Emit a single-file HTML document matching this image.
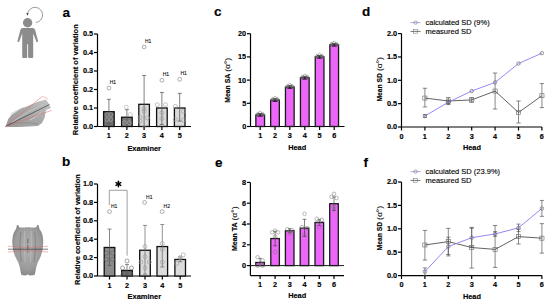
<!DOCTYPE html>
<html><head><meta charset="utf-8"><style>
html,body{margin:0;padding:0;background:#fff;}
svg{display:block;}
text{font-family:"Liberation Sans", sans-serif;}
text[font-weight=bold],tspan[font-weight=bold]{stroke:#000;stroke-width:0.15px;}
</style></head><body>
<svg width="550" height="305" viewBox="0 0 550 305" font-family='"Liberation Sans", sans-serif'>
<rect width="550" height="305" fill="#fff"/>
<text x="62.50" y="17.00" font-size="13.5" font-weight="bold" text-anchor="start" fill="#000" >a</text>
<text x="62.00" y="166.00" font-size="13.5" font-weight="bold" text-anchor="start" fill="#000" >b</text>
<text x="214.00" y="16.00" font-size="13.5" font-weight="bold" text-anchor="start" fill="#000" >c</text>
<text x="215.00" y="167.00" font-size="13.5" font-weight="bold" text-anchor="start" fill="#000" >e</text>
<text x="362.00" y="15.60" font-size="13.5" font-weight="bold" text-anchor="start" fill="#000" >d</text>
<text x="363.50" y="167.00" font-size="13.5" font-weight="bold" text-anchor="start" fill="#000" >f</text>
<line x1="97.50" y1="34.00" x2="97.50" y2="126.50" stroke="#000" stroke-width="1.2" />
<line x1="94.00" y1="126.50" x2="97.50" y2="126.50" stroke="#000" stroke-width="1.2" />
<text x="93.20" y="128.90" font-size="7.3" font-weight="bold" text-anchor="end" fill="#000" >0.0</text>
<line x1="94.00" y1="108.00" x2="97.50" y2="108.00" stroke="#000" stroke-width="1.2" />
<text x="93.20" y="110.40" font-size="7.3" font-weight="bold" text-anchor="end" fill="#000" >0.1</text>
<line x1="94.00" y1="89.50" x2="97.50" y2="89.50" stroke="#000" stroke-width="1.2" />
<text x="93.20" y="91.90" font-size="7.3" font-weight="bold" text-anchor="end" fill="#000" >0.2</text>
<line x1="94.00" y1="71.00" x2="97.50" y2="71.00" stroke="#000" stroke-width="1.2" />
<text x="93.20" y="73.40" font-size="7.3" font-weight="bold" text-anchor="end" fill="#000" >0.3</text>
<line x1="94.00" y1="52.50" x2="97.50" y2="52.50" stroke="#000" stroke-width="1.2" />
<text x="93.20" y="54.90" font-size="7.3" font-weight="bold" text-anchor="end" fill="#000" >0.4</text>
<line x1="94.00" y1="34.00" x2="97.50" y2="34.00" stroke="#000" stroke-width="1.2" />
<text x="93.20" y="36.40" font-size="7.3" font-weight="bold" text-anchor="end" fill="#000" >0.5</text>
<line x1="97.50" y1="126.50" x2="191.00" y2="126.50" stroke="#000" stroke-width="1.2" />
<line x1="108.90" y1="126.50" x2="108.90" y2="130.00" stroke="#000" stroke-width="1.2" />
<text x="108.90" y="138.30" font-size="7.3" font-weight="bold" text-anchor="middle" fill="#000" >1</text>
<line x1="126.90" y1="126.50" x2="126.90" y2="130.00" stroke="#000" stroke-width="1.2" />
<text x="126.90" y="138.30" font-size="7.3" font-weight="bold" text-anchor="middle" fill="#000" >2</text>
<line x1="144.10" y1="126.50" x2="144.10" y2="130.00" stroke="#000" stroke-width="1.2" />
<text x="144.10" y="138.30" font-size="7.3" font-weight="bold" text-anchor="middle" fill="#000" >3</text>
<line x1="161.90" y1="126.50" x2="161.90" y2="130.00" stroke="#000" stroke-width="1.2" />
<text x="161.90" y="138.30" font-size="7.3" font-weight="bold" text-anchor="middle" fill="#000" >4</text>
<line x1="179.70" y1="126.50" x2="179.70" y2="130.00" stroke="#000" stroke-width="1.2" />
<text x="179.70" y="138.30" font-size="7.3" font-weight="bold" text-anchor="middle" fill="#000" >5</text>
<text x="144.20" y="150.50" font-size="7.8" font-weight="bold" text-anchor="middle" fill="#000" textLength="33.6" lengthAdjust="spacingAndGlyphs">Examiner</text>
<text transform="translate(78.3,79.7) rotate(-90)" font-size="7.5" font-weight="bold" text-anchor="middle">Relative coefficient of variation</text>
<rect x="103.60" y="111.70" width="10.60" height="14.80" fill="#707070" stroke="#111" stroke-width="1.3"/>
<rect x="121.60" y="117.25" width="10.60" height="9.25" fill="#7c7c7c" stroke="#111" stroke-width="1.3"/>
<rect x="138.80" y="104.30" width="10.60" height="22.20" fill="#dadada" stroke="#111" stroke-width="1.3"/>
<rect x="156.60" y="108.00" width="10.60" height="18.50" fill="#dadada" stroke="#111" stroke-width="1.3"/>
<rect x="174.40" y="108.00" width="10.60" height="18.50" fill="#dadada" stroke="#111" stroke-width="1.3"/>
<line x1="108.90" y1="99.31" x2="108.90" y2="123.54" stroke="#555" stroke-width="0.75" />
<line x1="106.90" y1="99.31" x2="110.90" y2="99.31" stroke="#555" stroke-width="0.75" />
<line x1="106.90" y1="123.54" x2="110.90" y2="123.54" stroke="#555" stroke-width="0.75" />
<circle cx="107.30" cy="114.47" r="2.0" fill="none" stroke="#aaa" stroke-width="0.6"/>
<circle cx="110.70" cy="114.47" r="2.0" fill="none" stroke="#aaa" stroke-width="0.6"/>
<circle cx="107.30" cy="119.47" r="2.0" fill="none" stroke="#aaa" stroke-width="0.6"/>
<circle cx="110.70" cy="119.47" r="2.0" fill="none" stroke="#aaa" stroke-width="0.6"/>
<line x1="126.90" y1="109.66" x2="126.90" y2="124.28" stroke="#555" stroke-width="0.75" />
<line x1="124.90" y1="109.66" x2="128.90" y2="109.66" stroke="#555" stroke-width="0.75" />
<line x1="124.90" y1="124.28" x2="128.90" y2="124.28" stroke="#555" stroke-width="0.75" />
<circle cx="126.20" cy="107.26" r="2.0" fill="none" stroke="#aaa" stroke-width="0.6"/>
<circle cx="130.30" cy="114.47" r="2.0" fill="none" stroke="#aaa" stroke-width="0.6"/>
<circle cx="124.40" cy="122.80" r="2.0" fill="none" stroke="#aaa" stroke-width="0.6"/>
<circle cx="129.40" cy="122.80" r="2.0" fill="none" stroke="#aaa" stroke-width="0.6"/>
<line x1="144.10" y1="75.44" x2="144.10" y2="126.50" stroke="#555" stroke-width="0.75" />
<line x1="142.10" y1="75.44" x2="146.10" y2="75.44" stroke="#555" stroke-width="0.75" />
<line x1="142.10" y1="126.50" x2="146.10" y2="126.50" stroke="#555" stroke-width="0.75" />
<circle cx="144.10" cy="108.74" r="2.0" fill="none" stroke="#999" stroke-width="0.6"/>
<circle cx="144.10" cy="111.33" r="2.0" fill="none" stroke="#999" stroke-width="0.6"/>
<circle cx="140.10" cy="117.06" r="2.0" fill="none" stroke="#999" stroke-width="0.6"/>
<circle cx="147.50" cy="117.81" r="2.0" fill="none" stroke="#999" stroke-width="0.6"/>
<circle cx="140.10" cy="121.14" r="2.0" fill="none" stroke="#999" stroke-width="0.6"/>
<line x1="161.90" y1="92.46" x2="161.90" y2="124.47" stroke="#555" stroke-width="0.75" />
<line x1="159.90" y1="92.46" x2="163.90" y2="92.46" stroke="#555" stroke-width="0.75" />
<line x1="159.90" y1="124.47" x2="163.90" y2="124.47" stroke="#555" stroke-width="0.75" />
<circle cx="157.30" cy="104.67" r="2.0" fill="none" stroke="#999" stroke-width="0.6"/>
<circle cx="165.50" cy="104.67" r="2.0" fill="none" stroke="#999" stroke-width="0.6"/>
<circle cx="161.90" cy="112.81" r="2.0" fill="none" stroke="#999" stroke-width="0.6"/>
<circle cx="161.90" cy="118.55" r="2.0" fill="none" stroke="#999" stroke-width="0.6"/>
<line x1="179.70" y1="93.38" x2="179.70" y2="121.14" stroke="#555" stroke-width="0.75" />
<line x1="177.70" y1="93.38" x2="181.70" y2="93.38" stroke="#555" stroke-width="0.75" />
<line x1="177.70" y1="121.14" x2="181.70" y2="121.14" stroke="#555" stroke-width="0.75" />
<circle cx="175.30" cy="106.34" r="2.0" fill="none" stroke="#999" stroke-width="0.6"/>
<circle cx="183.50" cy="111.33" r="2.0" fill="none" stroke="#999" stroke-width="0.6"/>
<circle cx="175.30" cy="119.47" r="2.0" fill="none" stroke="#999" stroke-width="0.6"/>
<circle cx="183.50" cy="120.03" r="2.0" fill="none" stroke="#999" stroke-width="0.6"/>
<circle cx="108.90" cy="88.02" r="1.9" fill="none" stroke="#777" stroke-width="0.6"/>
<text x="109.70" y="84.02" font-size="5" font-weight="normal" text-anchor="start" fill="#111" stroke="#111" stroke-width="0.1">H1</text>
<circle cx="144.10" cy="46.95" r="1.9" fill="none" stroke="#777" stroke-width="0.6"/>
<text x="144.90" y="42.95" font-size="5" font-weight="normal" text-anchor="start" fill="#111" stroke="#111" stroke-width="0.1">H1</text>
<circle cx="161.90" cy="80.25" r="1.9" fill="none" stroke="#777" stroke-width="0.6"/>
<text x="162.70" y="76.25" font-size="5" font-weight="normal" text-anchor="start" fill="#111" stroke="#111" stroke-width="0.1">H1</text>
<circle cx="179.70" cy="79.32" r="1.9" fill="none" stroke="#777" stroke-width="0.6"/>
<text x="180.50" y="75.32" font-size="5" font-weight="normal" text-anchor="start" fill="#111" stroke="#111" stroke-width="0.1">H1</text>
<line x1="97.50" y1="184.00" x2="97.50" y2="276.00" stroke="#000" stroke-width="1.2" />
<line x1="94.00" y1="276.00" x2="97.50" y2="276.00" stroke="#000" stroke-width="1.2" />
<text x="93.20" y="278.40" font-size="7.3" font-weight="bold" text-anchor="end" fill="#000" >0.0</text>
<line x1="94.00" y1="257.60" x2="97.50" y2="257.60" stroke="#000" stroke-width="1.2" />
<text x="93.20" y="260.00" font-size="7.3" font-weight="bold" text-anchor="end" fill="#000" >0.2</text>
<line x1="94.00" y1="239.20" x2="97.50" y2="239.20" stroke="#000" stroke-width="1.2" />
<text x="93.20" y="241.60" font-size="7.3" font-weight="bold" text-anchor="end" fill="#000" >0.4</text>
<line x1="94.00" y1="220.80" x2="97.50" y2="220.80" stroke="#000" stroke-width="1.2" />
<text x="93.20" y="223.20" font-size="7.3" font-weight="bold" text-anchor="end" fill="#000" >0.6</text>
<line x1="94.00" y1="202.40" x2="97.50" y2="202.40" stroke="#000" stroke-width="1.2" />
<text x="93.20" y="204.80" font-size="7.3" font-weight="bold" text-anchor="end" fill="#000" >0.8</text>
<line x1="94.00" y1="184.00" x2="97.50" y2="184.00" stroke="#000" stroke-width="1.2" />
<text x="93.20" y="186.40" font-size="7.3" font-weight="bold" text-anchor="end" fill="#000" >1.0</text>
<line x1="97.50" y1="276.00" x2="191.00" y2="276.00" stroke="#000" stroke-width="1.2" />
<line x1="109.50" y1="276.00" x2="109.50" y2="279.50" stroke="#000" stroke-width="1.2" />
<text x="109.50" y="287.80" font-size="7.3" font-weight="bold" text-anchor="middle" fill="#000" >1</text>
<line x1="127.00" y1="276.00" x2="127.00" y2="279.50" stroke="#000" stroke-width="1.2" />
<text x="127.00" y="287.80" font-size="7.3" font-weight="bold" text-anchor="middle" fill="#000" >2</text>
<line x1="145.00" y1="276.00" x2="145.00" y2="279.50" stroke="#000" stroke-width="1.2" />
<text x="145.00" y="287.80" font-size="7.3" font-weight="bold" text-anchor="middle" fill="#000" >3</text>
<line x1="162.30" y1="276.00" x2="162.30" y2="279.50" stroke="#000" stroke-width="1.2" />
<text x="162.30" y="287.80" font-size="7.3" font-weight="bold" text-anchor="middle" fill="#000" >4</text>
<line x1="180.20" y1="276.00" x2="180.20" y2="279.50" stroke="#000" stroke-width="1.2" />
<text x="180.20" y="287.80" font-size="7.3" font-weight="bold" text-anchor="middle" fill="#000" >5</text>
<text x="144.30" y="299.30" font-size="7.8" font-weight="bold" text-anchor="middle" fill="#000" textLength="33.6" lengthAdjust="spacingAndGlyphs">Examiner</text>
<text transform="translate(79.5,229.5) rotate(-90)" font-size="7.5" font-weight="bold" text-anchor="middle">Relative coefficient of variation</text>
<rect x="104.20" y="247.48" width="10.60" height="28.52" fill="#8c8c8c" stroke="#111" stroke-width="1.3"/>
<rect x="121.70" y="270.48" width="10.60" height="5.52" fill="#6e6e6e" stroke="#111" stroke-width="1.3"/>
<rect x="139.70" y="250.24" width="10.60" height="25.76" fill="#dcdcdc" stroke="#111" stroke-width="1.3"/>
<rect x="157.00" y="246.56" width="10.60" height="29.44" fill="#dcdcdc" stroke="#111" stroke-width="1.3"/>
<rect x="174.90" y="259.44" width="10.60" height="16.56" fill="#dcdcdc" stroke="#111" stroke-width="1.3"/>
<line x1="109.50" y1="229.08" x2="109.50" y2="265.42" stroke="#555" stroke-width="0.7" />
<line x1="107.50" y1="229.08" x2="111.50" y2="229.08" stroke="#555" stroke-width="0.7" />
<line x1="107.50" y1="265.42" x2="111.50" y2="265.42" stroke="#555" stroke-width="0.7" />
<circle cx="106.50" cy="253.00" r="2.0" fill="none" stroke="#666" stroke-width="0.6"/>
<circle cx="112.50" cy="253.00" r="2.0" fill="none" stroke="#666" stroke-width="0.6"/>
<circle cx="106.50" cy="259.44" r="2.0" fill="none" stroke="#666" stroke-width="0.6"/>
<circle cx="112.50" cy="259.44" r="2.0" fill="none" stroke="#666" stroke-width="0.6"/>
<line x1="127.00" y1="264.41" x2="127.00" y2="276.00" stroke="#555" stroke-width="0.7" />
<line x1="125.00" y1="264.41" x2="129.00" y2="264.41" stroke="#555" stroke-width="0.7" />
<line x1="125.00" y1="276.00" x2="129.00" y2="276.00" stroke="#555" stroke-width="0.7" />
<circle cx="127.00" cy="261.00" r="2.0" fill="none" stroke="#666" stroke-width="0.6"/>
<circle cx="122.50" cy="268.00" r="2.0" fill="none" stroke="#666" stroke-width="0.6"/>
<circle cx="131.50" cy="268.00" r="2.0" fill="none" stroke="#666" stroke-width="0.6"/>
<circle cx="123.00" cy="274.16" r="2.0" fill="none" stroke="#666" stroke-width="0.6"/>
<circle cx="131.00" cy="274.16" r="2.0" fill="none" stroke="#666" stroke-width="0.6"/>
<line x1="145.00" y1="225.40" x2="145.00" y2="274.16" stroke="#666" stroke-width="0.7" />
<line x1="143.00" y1="225.40" x2="147.00" y2="225.40" stroke="#666" stroke-width="0.7" />
<line x1="143.00" y1="274.16" x2="147.00" y2="274.16" stroke="#666" stroke-width="0.7" />
<circle cx="145.00" cy="246.56" r="2.0" fill="none" stroke="#999" stroke-width="0.6"/>
<circle cx="145.00" cy="256.68" r="2.0" fill="none" stroke="#999" stroke-width="0.6"/>
<circle cx="141.00" cy="262.02" r="2.0" fill="none" stroke="#999" stroke-width="0.6"/>
<circle cx="149.30" cy="262.02" r="2.0" fill="none" stroke="#999" stroke-width="0.6"/>
<circle cx="145.00" cy="267.72" r="2.0" fill="none" stroke="#999" stroke-width="0.6"/>
<line x1="162.30" y1="224.48" x2="162.30" y2="266.98" stroke="#666" stroke-width="0.7" />
<line x1="160.30" y1="224.48" x2="164.30" y2="224.48" stroke="#666" stroke-width="0.7" />
<line x1="160.30" y1="266.98" x2="164.30" y2="266.98" stroke="#666" stroke-width="0.7" />
<circle cx="162.30" cy="243.52" r="2.0" fill="none" stroke="#999" stroke-width="0.6"/>
<circle cx="162.30" cy="262.20" r="2.0" fill="none" stroke="#999" stroke-width="0.6"/>
<circle cx="162.30" cy="249.32" r="2.0" fill="none" stroke="#999" stroke-width="0.6"/>
<line x1="180.20" y1="256.96" x2="180.20" y2="261.74" stroke="#666" stroke-width="0.7" />
<line x1="178.20" y1="256.96" x2="182.20" y2="256.96" stroke="#666" stroke-width="0.7" />
<line x1="178.20" y1="261.74" x2="182.20" y2="261.74" stroke="#666" stroke-width="0.7" />
<circle cx="183.30" cy="254.84" r="2.0" fill="none" stroke="#999" stroke-width="0.6"/>
<circle cx="176.80" cy="263.40" r="2.0" fill="none" stroke="#999" stroke-width="0.6"/>
<circle cx="180.20" cy="257.60" r="2.0" fill="none" stroke="#999" stroke-width="0.6"/>
<circle cx="109.50" cy="211.60" r="1.9" fill="none" stroke="#777" stroke-width="0.6"/>
<text x="111.00" y="208.40" font-size="5" font-weight="normal" text-anchor="start" fill="#111" stroke="#111" stroke-width="0.1">H1</text>
<circle cx="144.60" cy="202.40" r="1.9" fill="none" stroke="#777" stroke-width="0.6"/>
<text x="146.10" y="199.20" font-size="5" font-weight="normal" text-anchor="start" fill="#111" stroke="#111" stroke-width="0.1">H1</text>
<circle cx="162.10" cy="211.60" r="1.9" fill="none" stroke="#777" stroke-width="0.6"/>
<text x="163.60" y="208.40" font-size="5" font-weight="normal" text-anchor="start" fill="#111" stroke="#111" stroke-width="0.1">H2</text>
<polyline points="109.3,205 109.3,190.3 127.1,190.3 127.1,255.7" fill="none" stroke="#888" stroke-width="0.8"/>
<line x1="118.40" y1="181.30" x2="118.40" y2="186.70" stroke="#000" stroke-width="1.5" stroke-linecap="round"/>
<line x1="116.06" y1="182.65" x2="120.74" y2="185.35" stroke="#000" stroke-width="1.5" stroke-linecap="round"/>
<line x1="116.06" y1="185.35" x2="120.74" y2="182.65" stroke="#000" stroke-width="1.5" stroke-linecap="round"/>
<line x1="250.50" y1="33.70" x2="250.50" y2="126.50" stroke="#000" stroke-width="1.2" />
<line x1="247.00" y1="126.50" x2="250.50" y2="126.50" stroke="#000" stroke-width="1.2" />
<text x="246.20" y="128.90" font-size="7.3" font-weight="bold" text-anchor="end" fill="#000" >0</text>
<line x1="247.00" y1="103.30" x2="250.50" y2="103.30" stroke="#000" stroke-width="1.2" />
<text x="246.20" y="105.70" font-size="7.3" font-weight="bold" text-anchor="end" fill="#000" >5</text>
<line x1="247.00" y1="80.10" x2="250.50" y2="80.10" stroke="#000" stroke-width="1.2" />
<text x="246.20" y="82.50" font-size="7.3" font-weight="bold" text-anchor="end" fill="#000" >10</text>
<line x1="247.00" y1="56.90" x2="250.50" y2="56.90" stroke="#000" stroke-width="1.2" />
<text x="246.20" y="59.30" font-size="7.3" font-weight="bold" text-anchor="end" fill="#000" >15</text>
<line x1="247.00" y1="33.70" x2="250.50" y2="33.70" stroke="#000" stroke-width="1.2" />
<text x="246.20" y="36.10" font-size="7.3" font-weight="bold" text-anchor="end" fill="#000" >20</text>
<line x1="250.50" y1="126.50" x2="344.50" y2="126.50" stroke="#000" stroke-width="1.2" />
<line x1="260.20" y1="126.50" x2="260.20" y2="130.00" stroke="#000" stroke-width="1.2" />
<text x="260.20" y="138.30" font-size="7.3" font-weight="bold" text-anchor="middle" fill="#000" >1</text>
<line x1="275.00" y1="126.50" x2="275.00" y2="130.00" stroke="#000" stroke-width="1.2" />
<text x="275.00" y="138.30" font-size="7.3" font-weight="bold" text-anchor="middle" fill="#000" >2</text>
<line x1="289.80" y1="126.50" x2="289.80" y2="130.00" stroke="#000" stroke-width="1.2" />
<text x="289.80" y="138.30" font-size="7.3" font-weight="bold" text-anchor="middle" fill="#000" >3</text>
<line x1="304.80" y1="126.50" x2="304.80" y2="130.00" stroke="#000" stroke-width="1.2" />
<text x="304.80" y="138.30" font-size="7.3" font-weight="bold" text-anchor="middle" fill="#000" >4</text>
<line x1="319.60" y1="126.50" x2="319.60" y2="130.00" stroke="#000" stroke-width="1.2" />
<text x="319.60" y="138.30" font-size="7.3" font-weight="bold" text-anchor="middle" fill="#000" >5</text>
<line x1="334.20" y1="126.50" x2="334.20" y2="130.00" stroke="#000" stroke-width="1.2" />
<text x="334.20" y="138.30" font-size="7.3" font-weight="bold" text-anchor="middle" fill="#000" >6</text>
<text x="297.20" y="150.20" font-size="7.8" font-weight="bold" text-anchor="middle" fill="#000" textLength="18.0" lengthAdjust="spacingAndGlyphs">Head</text>
<rect x="255.85" y="114.90" width="8.70" height="11.60" fill="#ec66f8" stroke="#1a1a1a" stroke-width="1.3"/>
<rect x="270.65" y="100.05" width="8.70" height="26.45" fill="#ec66f8" stroke="#1a1a1a" stroke-width="1.3"/>
<rect x="285.45" y="87.06" width="8.70" height="39.44" fill="#ec66f8" stroke="#1a1a1a" stroke-width="1.3"/>
<rect x="300.45" y="77.78" width="8.70" height="48.72" fill="#ec66f8" stroke="#1a1a1a" stroke-width="1.3"/>
<rect x="315.25" y="56.90" width="8.70" height="69.60" fill="#ec66f8" stroke="#1a1a1a" stroke-width="1.3"/>
<rect x="329.85" y="44.84" width="8.70" height="81.66" fill="#ec66f8" stroke="#1a1a1a" stroke-width="1.3"/>
<line x1="260.20" y1="113.51" x2="260.20" y2="116.29" stroke="#111" stroke-width="0.8" />
<line x1="257.60" y1="113.51" x2="262.80" y2="113.51" stroke="#111" stroke-width="0.8" />
<line x1="257.60" y1="116.29" x2="262.80" y2="116.29" stroke="#111" stroke-width="0.8" />
<circle cx="257.90" cy="113.51" r="1.3" fill="none" stroke="#777" stroke-width="0.5"/>
<circle cx="262.50" cy="113.51" r="1.3" fill="none" stroke="#777" stroke-width="0.5"/>
<circle cx="260.20" cy="112.58" r="1.3" fill="none" stroke="#777" stroke-width="0.5"/>
<circle cx="257.00" cy="114.90" r="1.3" fill="none" stroke="#777" stroke-width="0.5"/>
<circle cx="263.40" cy="114.90" r="1.3" fill="none" stroke="#777" stroke-width="0.5"/>
<line x1="275.00" y1="98.66" x2="275.00" y2="101.44" stroke="#111" stroke-width="0.8" />
<line x1="272.40" y1="98.66" x2="277.60" y2="98.66" stroke="#111" stroke-width="0.8" />
<line x1="272.40" y1="101.44" x2="277.60" y2="101.44" stroke="#111" stroke-width="0.8" />
<circle cx="272.70" cy="98.66" r="1.3" fill="none" stroke="#777" stroke-width="0.5"/>
<circle cx="277.30" cy="98.66" r="1.3" fill="none" stroke="#777" stroke-width="0.5"/>
<circle cx="275.00" cy="97.73" r="1.3" fill="none" stroke="#777" stroke-width="0.5"/>
<circle cx="271.80" cy="100.05" r="1.3" fill="none" stroke="#777" stroke-width="0.5"/>
<circle cx="278.20" cy="100.05" r="1.3" fill="none" stroke="#777" stroke-width="0.5"/>
<line x1="289.80" y1="85.67" x2="289.80" y2="88.45" stroke="#111" stroke-width="0.8" />
<line x1="287.20" y1="85.67" x2="292.40" y2="85.67" stroke="#111" stroke-width="0.8" />
<line x1="287.20" y1="88.45" x2="292.40" y2="88.45" stroke="#111" stroke-width="0.8" />
<circle cx="287.50" cy="85.67" r="1.3" fill="none" stroke="#777" stroke-width="0.5"/>
<circle cx="292.10" cy="85.67" r="1.3" fill="none" stroke="#777" stroke-width="0.5"/>
<circle cx="289.80" cy="84.74" r="1.3" fill="none" stroke="#777" stroke-width="0.5"/>
<circle cx="286.60" cy="87.06" r="1.3" fill="none" stroke="#777" stroke-width="0.5"/>
<circle cx="293.00" cy="87.06" r="1.3" fill="none" stroke="#777" stroke-width="0.5"/>
<line x1="304.80" y1="76.39" x2="304.80" y2="79.17" stroke="#111" stroke-width="0.8" />
<line x1="302.20" y1="76.39" x2="307.40" y2="76.39" stroke="#111" stroke-width="0.8" />
<line x1="302.20" y1="79.17" x2="307.40" y2="79.17" stroke="#111" stroke-width="0.8" />
<circle cx="302.50" cy="76.39" r="1.3" fill="none" stroke="#777" stroke-width="0.5"/>
<circle cx="307.10" cy="76.39" r="1.3" fill="none" stroke="#777" stroke-width="0.5"/>
<circle cx="304.80" cy="75.46" r="1.3" fill="none" stroke="#777" stroke-width="0.5"/>
<circle cx="301.60" cy="77.78" r="1.3" fill="none" stroke="#777" stroke-width="0.5"/>
<circle cx="308.00" cy="77.78" r="1.3" fill="none" stroke="#777" stroke-width="0.5"/>
<line x1="319.60" y1="55.51" x2="319.60" y2="58.29" stroke="#111" stroke-width="0.8" />
<line x1="317.00" y1="55.51" x2="322.20" y2="55.51" stroke="#111" stroke-width="0.8" />
<line x1="317.00" y1="58.29" x2="322.20" y2="58.29" stroke="#111" stroke-width="0.8" />
<circle cx="317.30" cy="55.51" r="1.3" fill="none" stroke="#777" stroke-width="0.5"/>
<circle cx="321.90" cy="55.51" r="1.3" fill="none" stroke="#777" stroke-width="0.5"/>
<circle cx="319.60" cy="54.58" r="1.3" fill="none" stroke="#777" stroke-width="0.5"/>
<circle cx="316.40" cy="56.90" r="1.3" fill="none" stroke="#777" stroke-width="0.5"/>
<circle cx="322.80" cy="56.90" r="1.3" fill="none" stroke="#777" stroke-width="0.5"/>
<line x1="334.20" y1="43.44" x2="334.20" y2="46.23" stroke="#111" stroke-width="0.8" />
<line x1="331.60" y1="43.44" x2="336.80" y2="43.44" stroke="#111" stroke-width="0.8" />
<line x1="331.60" y1="46.23" x2="336.80" y2="46.23" stroke="#111" stroke-width="0.8" />
<circle cx="331.90" cy="43.44" r="1.3" fill="none" stroke="#777" stroke-width="0.5"/>
<circle cx="336.50" cy="43.44" r="1.3" fill="none" stroke="#777" stroke-width="0.5"/>
<circle cx="334.20" cy="42.52" r="1.3" fill="none" stroke="#777" stroke-width="0.5"/>
<circle cx="331.00" cy="44.84" r="1.3" fill="none" stroke="#777" stroke-width="0.5"/>
<circle cx="337.40" cy="44.84" r="1.3" fill="none" stroke="#777" stroke-width="0.5"/>
<text transform="translate(229.6,102.8) rotate(-90)" font-size="7.9" font-weight="bold" textLength="29.0" lengthAdjust="spacingAndGlyphs">Mean SA</text>
<text transform="translate(229.6,71.8) rotate(-90)" font-size="7.6" fill="#111" stroke="#111" stroke-width="0.12" textLength="14.0" lengthAdjust="spacingAndGlyphs">(α°)</text>
<line x1="250.40" y1="182.40" x2="250.40" y2="275.60" stroke="#000" stroke-width="1.2" />
<line x1="246.90" y1="265.60" x2="250.40" y2="265.60" stroke="#000" stroke-width="1.2" />
<text x="246.10" y="268.00" font-size="7.3" font-weight="bold" text-anchor="end" fill="#000" >0</text>
<line x1="246.90" y1="244.80" x2="250.40" y2="244.80" stroke="#000" stroke-width="1.2" />
<text x="246.10" y="247.20" font-size="7.3" font-weight="bold" text-anchor="end" fill="#000" >2</text>
<line x1="246.90" y1="224.00" x2="250.40" y2="224.00" stroke="#000" stroke-width="1.2" />
<text x="246.10" y="226.40" font-size="7.3" font-weight="bold" text-anchor="end" fill="#000" >4</text>
<line x1="246.90" y1="203.20" x2="250.40" y2="203.20" stroke="#000" stroke-width="1.2" />
<text x="246.10" y="205.60" font-size="7.3" font-weight="bold" text-anchor="end" fill="#000" >6</text>
<line x1="246.90" y1="182.40" x2="250.40" y2="182.40" stroke="#000" stroke-width="1.2" />
<text x="246.10" y="184.80" font-size="7.3" font-weight="bold" text-anchor="end" fill="#000" >8</text>
<line x1="250.40" y1="265.60" x2="344.00" y2="265.60" stroke="#000" stroke-width="0.9" />
<line x1="250.40" y1="275.60" x2="344.00" y2="275.60" stroke="#000" stroke-width="1.2" />
<line x1="260.10" y1="275.60" x2="260.10" y2="279.10" stroke="#000" stroke-width="1.2" />
<text x="260.10" y="287.40" font-size="7.3" font-weight="bold" text-anchor="middle" fill="#000" >1</text>
<line x1="275.10" y1="275.60" x2="275.10" y2="279.10" stroke="#000" stroke-width="1.2" />
<text x="275.10" y="287.40" font-size="7.3" font-weight="bold" text-anchor="middle" fill="#000" >2</text>
<line x1="289.70" y1="275.60" x2="289.70" y2="279.10" stroke="#000" stroke-width="1.2" />
<text x="289.70" y="287.40" font-size="7.3" font-weight="bold" text-anchor="middle" fill="#000" >3</text>
<line x1="304.50" y1="275.60" x2="304.50" y2="279.10" stroke="#000" stroke-width="1.2" />
<text x="304.50" y="287.40" font-size="7.3" font-weight="bold" text-anchor="middle" fill="#000" >4</text>
<line x1="319.30" y1="275.60" x2="319.30" y2="279.10" stroke="#000" stroke-width="1.2" />
<text x="319.30" y="287.40" font-size="7.3" font-weight="bold" text-anchor="middle" fill="#000" >5</text>
<line x1="334.00" y1="275.60" x2="334.00" y2="279.10" stroke="#000" stroke-width="1.2" />
<text x="334.00" y="287.40" font-size="7.3" font-weight="bold" text-anchor="middle" fill="#000" >6</text>
<text x="297.20" y="298.40" font-size="7.8" font-weight="bold" text-anchor="middle" fill="#000" textLength="18.0" lengthAdjust="spacingAndGlyphs">Head</text>
<rect x="255.80" y="262.48" width="8.60" height="3.12" fill="#ec66f8" stroke="#1a1a1a" stroke-width="1.3"/>
<rect x="270.80" y="238.56" width="8.60" height="27.04" fill="#ec66f8" stroke="#1a1a1a" stroke-width="1.3"/>
<rect x="285.40" y="230.76" width="8.60" height="34.84" fill="#ec66f8" stroke="#1a1a1a" stroke-width="1.3"/>
<rect x="300.20" y="228.16" width="8.60" height="37.44" fill="#ec66f8" stroke="#1a1a1a" stroke-width="1.3"/>
<rect x="315.00" y="222.44" width="8.60" height="43.16" fill="#ec66f8" stroke="#1a1a1a" stroke-width="1.3"/>
<rect x="329.70" y="203.72" width="8.60" height="61.88" fill="#ec66f8" stroke="#1a1a1a" stroke-width="1.3"/>
<line x1="260.10" y1="258.32" x2="260.10" y2="265.60" stroke="#333" stroke-width="0.6" />
<line x1="258.30" y1="258.32" x2="261.90" y2="258.32" stroke="#333" stroke-width="0.6" />
<line x1="258.30" y1="265.60" x2="261.90" y2="265.60" stroke="#333" stroke-width="0.6" />
<circle cx="257.60" cy="257.28" r="1.8" fill="none" stroke="#777" stroke-width="0.5"/>
<circle cx="262.60" cy="260.40" r="1.8" fill="none" stroke="#777" stroke-width="0.5"/>
<circle cx="257.60" cy="265.60" r="1.8" fill="none" stroke="#777" stroke-width="0.5"/>
<circle cx="262.60" cy="265.60" r="1.8" fill="none" stroke="#777" stroke-width="0.5"/>
<circle cx="260.10" cy="263.52" r="1.8" fill="none" stroke="#777" stroke-width="0.5"/>
<line x1="275.10" y1="231.28" x2="275.10" y2="245.84" stroke="#333" stroke-width="0.6" />
<line x1="273.30" y1="231.28" x2="276.90" y2="231.28" stroke="#333" stroke-width="0.6" />
<line x1="273.30" y1="245.84" x2="276.90" y2="245.84" stroke="#333" stroke-width="0.6" />
<circle cx="272.10" cy="232.32" r="1.8" fill="none" stroke="#777" stroke-width="0.5"/>
<circle cx="278.10" cy="232.32" r="1.8" fill="none" stroke="#777" stroke-width="0.5"/>
<circle cx="275.10" cy="230.76" r="1.8" fill="none" stroke="#777" stroke-width="0.5"/>
<circle cx="275.10" cy="252.08" r="1.8" fill="none" stroke="#777" stroke-width="0.5"/>
<circle cx="275.10" cy="236.48" r="1.8" fill="none" stroke="#777" stroke-width="0.5"/>
<line x1="289.70" y1="228.68" x2="289.70" y2="232.84" stroke="#333" stroke-width="0.6" />
<line x1="287.90" y1="228.68" x2="291.50" y2="228.68" stroke="#333" stroke-width="0.6" />
<line x1="287.90" y1="232.84" x2="291.50" y2="232.84" stroke="#333" stroke-width="0.6" />
<circle cx="287.20" cy="229.20" r="1.8" fill="none" stroke="#777" stroke-width="0.5"/>
<circle cx="292.20" cy="230.24" r="1.8" fill="none" stroke="#777" stroke-width="0.5"/>
<circle cx="289.70" cy="233.36" r="1.8" fill="none" stroke="#777" stroke-width="0.5"/>
<circle cx="289.70" cy="231.28" r="1.8" fill="none" stroke="#777" stroke-width="0.5"/>
<line x1="304.50" y1="219.32" x2="304.50" y2="236.48" stroke="#333" stroke-width="0.6" />
<line x1="302.70" y1="219.32" x2="306.30" y2="219.32" stroke="#333" stroke-width="0.6" />
<line x1="302.70" y1="236.48" x2="306.30" y2="236.48" stroke="#333" stroke-width="0.6" />
<circle cx="304.50" cy="213.81" r="1.8" fill="none" stroke="#777" stroke-width="0.5"/>
<circle cx="304.50" cy="234.40" r="1.8" fill="none" stroke="#777" stroke-width="0.5"/>
<circle cx="302.00" cy="227.12" r="1.8" fill="none" stroke="#777" stroke-width="0.5"/>
<circle cx="307.00" cy="228.16" r="1.8" fill="none" stroke="#777" stroke-width="0.5"/>
<line x1="319.30" y1="219.32" x2="319.30" y2="225.56" stroke="#333" stroke-width="0.6" />
<line x1="317.50" y1="219.32" x2="321.10" y2="219.32" stroke="#333" stroke-width="0.6" />
<line x1="317.50" y1="225.56" x2="321.10" y2="225.56" stroke="#333" stroke-width="0.6" />
<circle cx="316.80" cy="218.80" r="1.8" fill="none" stroke="#777" stroke-width="0.5"/>
<circle cx="321.80" cy="219.84" r="1.8" fill="none" stroke="#777" stroke-width="0.5"/>
<circle cx="319.30" cy="227.12" r="1.8" fill="none" stroke="#777" stroke-width="0.5"/>
<circle cx="319.30" cy="221.92" r="1.8" fill="none" stroke="#777" stroke-width="0.5"/>
<line x1="334.00" y1="196.96" x2="334.00" y2="210.48" stroke="#333" stroke-width="0.6" />
<line x1="332.20" y1="196.96" x2="335.80" y2="196.96" stroke="#333" stroke-width="0.6" />
<line x1="332.20" y1="210.48" x2="335.80" y2="210.48" stroke="#333" stroke-width="0.6" />
<circle cx="331.50" cy="196.96" r="1.8" fill="none" stroke="#777" stroke-width="0.5"/>
<circle cx="336.50" cy="198.00" r="1.8" fill="none" stroke="#777" stroke-width="0.5"/>
<circle cx="334.00" cy="193.84" r="1.8" fill="none" stroke="#777" stroke-width="0.5"/>
<circle cx="334.00" cy="209.44" r="1.8" fill="none" stroke="#777" stroke-width="0.5"/>
<circle cx="334.00" cy="206.32" r="1.8" fill="none" stroke="#777" stroke-width="0.5"/>
<text transform="translate(236.6,251.0) rotate(-90)" font-size="7.9" font-weight="bold" textLength="28.5" lengthAdjust="spacingAndGlyphs">Mean TA</text>
<text transform="translate(236.6,220.5) rotate(-90)" font-size="7.6" fill="#111" stroke="#111" stroke-width="0.12" textLength="14.0" lengthAdjust="spacingAndGlyphs">(α°)</text>
<line x1="401.50" y1="33.60" x2="401.50" y2="127.00" stroke="#000" stroke-width="1.2" />
<line x1="398.00" y1="127.00" x2="401.50" y2="127.00" stroke="#000" stroke-width="1.2" />
<text x="397.20" y="129.40" font-size="7.3" font-weight="bold" text-anchor="end" fill="#000" >0.0</text>
<line x1="398.00" y1="103.65" x2="401.50" y2="103.65" stroke="#000" stroke-width="1.2" />
<text x="397.20" y="106.05" font-size="7.3" font-weight="bold" text-anchor="end" fill="#000" >0.5</text>
<line x1="398.00" y1="80.30" x2="401.50" y2="80.30" stroke="#000" stroke-width="1.2" />
<text x="397.20" y="82.70" font-size="7.3" font-weight="bold" text-anchor="end" fill="#000" >1.0</text>
<line x1="398.00" y1="56.95" x2="401.50" y2="56.95" stroke="#000" stroke-width="1.2" />
<text x="397.20" y="59.35" font-size="7.3" font-weight="bold" text-anchor="end" fill="#000" >1.5</text>
<line x1="398.00" y1="33.60" x2="401.50" y2="33.60" stroke="#000" stroke-width="1.2" />
<text x="397.20" y="36.00" font-size="7.3" font-weight="bold" text-anchor="end" fill="#000" >2.0</text>
<line x1="401.50" y1="127.00" x2="541.90" y2="127.00" stroke="#000" stroke-width="1.2" />
<line x1="401.50" y1="127.00" x2="401.50" y2="130.50" stroke="#000" stroke-width="1.2" />
<text x="401.50" y="138.80" font-size="7.3" font-weight="bold" text-anchor="middle" fill="#000" >0</text>
<line x1="424.90" y1="127.00" x2="424.90" y2="130.50" stroke="#000" stroke-width="1.2" />
<text x="424.90" y="138.80" font-size="7.3" font-weight="bold" text-anchor="middle" fill="#000" >1</text>
<line x1="448.30" y1="127.00" x2="448.30" y2="130.50" stroke="#000" stroke-width="1.2" />
<text x="448.30" y="138.80" font-size="7.3" font-weight="bold" text-anchor="middle" fill="#000" >2</text>
<line x1="471.70" y1="127.00" x2="471.70" y2="130.50" stroke="#000" stroke-width="1.2" />
<text x="471.70" y="138.80" font-size="7.3" font-weight="bold" text-anchor="middle" fill="#000" >3</text>
<line x1="495.10" y1="127.00" x2="495.10" y2="130.50" stroke="#000" stroke-width="1.2" />
<text x="495.10" y="138.80" font-size="7.3" font-weight="bold" text-anchor="middle" fill="#000" >4</text>
<line x1="518.50" y1="127.00" x2="518.50" y2="130.50" stroke="#000" stroke-width="1.2" />
<text x="518.50" y="138.80" font-size="7.3" font-weight="bold" text-anchor="middle" fill="#000" >5</text>
<line x1="541.90" y1="127.00" x2="541.90" y2="130.50" stroke="#000" stroke-width="1.2" />
<text x="541.90" y="138.80" font-size="7.3" font-weight="bold" text-anchor="middle" fill="#000" >6</text>
<text x="471.90" y="150.20" font-size="7.8" font-weight="bold" text-anchor="middle" fill="#000" textLength="18.0" lengthAdjust="spacingAndGlyphs">Head</text>
<text transform="translate(381.8,101.6) rotate(-90)" font-size="7.9" font-weight="bold" textLength="28.5" lengthAdjust="spacingAndGlyphs">Mean SD</text>
<text transform="translate(381.8,71.1) rotate(-90)" font-size="7.6" fill="#111" stroke="#111" stroke-width="0.12" textLength="14.0" lengthAdjust="spacingAndGlyphs">(α°)</text>
<line x1="424.90" y1="88.24" x2="424.90" y2="106.92" stroke="#4a4a4a" stroke-width="0.65" />
<line x1="422.70" y1="88.24" x2="427.10" y2="88.24" stroke="#4a4a4a" stroke-width="0.65" />
<line x1="422.70" y1="106.92" x2="427.10" y2="106.92" stroke="#4a4a4a" stroke-width="0.65" />
<line x1="448.30" y1="97.58" x2="448.30" y2="104.58" stroke="#4a4a4a" stroke-width="0.65" />
<line x1="446.10" y1="97.58" x2="450.50" y2="97.58" stroke="#4a4a4a" stroke-width="0.65" />
<line x1="446.10" y1="104.58" x2="450.50" y2="104.58" stroke="#4a4a4a" stroke-width="0.65" />
<line x1="471.70" y1="97.58" x2="471.70" y2="102.25" stroke="#4a4a4a" stroke-width="0.65" />
<line x1="469.50" y1="97.58" x2="473.90" y2="97.58" stroke="#4a4a4a" stroke-width="0.65" />
<line x1="469.50" y1="102.25" x2="473.90" y2="102.25" stroke="#4a4a4a" stroke-width="0.65" />
<line x1="495.10" y1="73.01" x2="495.10" y2="109.02" stroke="#4a4a4a" stroke-width="0.65" />
<line x1="492.90" y1="73.01" x2="497.30" y2="73.01" stroke="#4a4a4a" stroke-width="0.65" />
<line x1="492.90" y1="109.02" x2="497.30" y2="109.02" stroke="#4a4a4a" stroke-width="0.65" />
<line x1="518.50" y1="101.03" x2="518.50" y2="123.03" stroke="#4a4a4a" stroke-width="0.65" />
<line x1="516.30" y1="101.03" x2="520.70" y2="101.03" stroke="#4a4a4a" stroke-width="0.65" />
<line x1="516.30" y1="123.03" x2="520.70" y2="123.03" stroke="#4a4a4a" stroke-width="0.65" />
<line x1="541.90" y1="83.57" x2="541.90" y2="107.62" stroke="#4a4a4a" stroke-width="0.65" />
<line x1="539.70" y1="83.57" x2="544.10" y2="83.57" stroke="#4a4a4a" stroke-width="0.65" />
<line x1="539.70" y1="107.62" x2="544.10" y2="107.62" stroke="#4a4a4a" stroke-width="0.65" />
<line x1="424.90" y1="114.62" x2="424.90" y2="117.43" stroke="#4a4a4a" stroke-width="0.65" />
<line x1="422.90" y1="114.62" x2="426.90" y2="114.62" stroke="#4a4a4a" stroke-width="0.65" />
<line x1="422.90" y1="117.43" x2="426.90" y2="117.43" stroke="#4a4a4a" stroke-width="0.65" />
<line x1="448.30" y1="100.85" x2="448.30" y2="103.65" stroke="#4a4a4a" stroke-width="0.65" />
<line x1="446.30" y1="100.85" x2="450.30" y2="100.85" stroke="#4a4a4a" stroke-width="0.65" />
<line x1="446.30" y1="103.65" x2="450.30" y2="103.65" stroke="#4a4a4a" stroke-width="0.65" />
<polyline points="424.90,98.05 448.30,101.03 471.70,99.91 495.10,91.04 518.50,112.52 541.90,95.71" fill="none" stroke="#3a3a3a" stroke-width="0.8"/>
<polyline points="424.90,116.03 448.30,102.25 471.70,91.04 495.10,82.40 518.50,63.49 541.90,53.21" fill="none" stroke="#8c84f2" stroke-width="0.95"/>
<rect x="422.80" y="96.05" width="4.2" height="4.0" fill="none" stroke="#666" stroke-width="0.6"/>
<rect x="446.20" y="99.03" width="4.2" height="4.0" fill="none" stroke="#666" stroke-width="0.6"/>
<rect x="469.60" y="97.91" width="4.2" height="4.0" fill="none" stroke="#666" stroke-width="0.6"/>
<rect x="493.00" y="89.04" width="4.2" height="4.0" fill="none" stroke="#666" stroke-width="0.6"/>
<rect x="516.40" y="110.52" width="4.2" height="4.0" fill="none" stroke="#666" stroke-width="0.6"/>
<rect x="539.80" y="93.71" width="4.2" height="4.0" fill="none" stroke="#666" stroke-width="0.6"/>
<circle cx="424.90" cy="116.03" r="1.75" fill="none" stroke="#666" stroke-width="0.65"/>
<circle cx="448.30" cy="102.25" r="1.75" fill="none" stroke="#666" stroke-width="0.65"/>
<circle cx="471.70" cy="91.04" r="1.75" fill="none" stroke="#666" stroke-width="0.65"/>
<circle cx="495.10" cy="82.40" r="1.75" fill="none" stroke="#666" stroke-width="0.65"/>
<circle cx="518.50" cy="63.49" r="1.75" fill="none" stroke="#666" stroke-width="0.65"/>
<circle cx="541.90" cy="53.21" r="1.75" fill="none" stroke="#666" stroke-width="0.65"/>
<line x1="410.50" y1="22.60" x2="420.50" y2="22.60" stroke="#8c84f2" stroke-width="0.7" />
<circle cx="415.60" cy="22.60" r="1.7" fill="none" stroke="#777" stroke-width="0.6"/>
<text x="425.50" y="25.20" font-size="7.5" font-weight="normal" text-anchor="start" fill="#000" stroke="#000" stroke-width="0.12">calculated SD (9%)</text>
<line x1="410.50" y1="31.40" x2="420.50" y2="31.40" stroke="#3a3a3a" stroke-width="0.7" />
<rect x="413.5" y="29.60" width="4.2" height="3.6" fill="none" stroke="#777" stroke-width="0.55"/>
<text x="425.50" y="33.60" font-size="7.5" font-weight="normal" text-anchor="start" fill="#000" stroke="#000" stroke-width="0.12">measured SD</text>
<line x1="401.50" y1="182.00" x2="401.50" y2="275.60" stroke="#000" stroke-width="1.2" />
<line x1="398.00" y1="275.60" x2="401.50" y2="275.60" stroke="#000" stroke-width="1.2" />
<text x="397.20" y="278.00" font-size="7.3" font-weight="bold" text-anchor="end" fill="#000" >0.0</text>
<line x1="398.00" y1="252.20" x2="401.50" y2="252.20" stroke="#000" stroke-width="1.2" />
<text x="397.20" y="254.60" font-size="7.3" font-weight="bold" text-anchor="end" fill="#000" >0.5</text>
<line x1="398.00" y1="228.80" x2="401.50" y2="228.80" stroke="#000" stroke-width="1.2" />
<text x="397.20" y="231.20" font-size="7.3" font-weight="bold" text-anchor="end" fill="#000" >1.0</text>
<line x1="398.00" y1="205.40" x2="401.50" y2="205.40" stroke="#000" stroke-width="1.2" />
<text x="397.20" y="207.80" font-size="7.3" font-weight="bold" text-anchor="end" fill="#000" >1.5</text>
<line x1="398.00" y1="182.00" x2="401.50" y2="182.00" stroke="#000" stroke-width="1.2" />
<text x="397.20" y="184.40" font-size="7.3" font-weight="bold" text-anchor="end" fill="#000" >2.0</text>
<line x1="401.50" y1="275.60" x2="541.90" y2="275.60" stroke="#000" stroke-width="1.2" />
<line x1="401.50" y1="275.60" x2="401.50" y2="279.10" stroke="#000" stroke-width="1.2" />
<text x="401.50" y="287.40" font-size="7.3" font-weight="bold" text-anchor="middle" fill="#000" >0</text>
<line x1="424.90" y1="275.60" x2="424.90" y2="279.10" stroke="#000" stroke-width="1.2" />
<text x="424.90" y="287.40" font-size="7.3" font-weight="bold" text-anchor="middle" fill="#000" >1</text>
<line x1="448.30" y1="275.60" x2="448.30" y2="279.10" stroke="#000" stroke-width="1.2" />
<text x="448.30" y="287.40" font-size="7.3" font-weight="bold" text-anchor="middle" fill="#000" >2</text>
<line x1="471.70" y1="275.60" x2="471.70" y2="279.10" stroke="#000" stroke-width="1.2" />
<text x="471.70" y="287.40" font-size="7.3" font-weight="bold" text-anchor="middle" fill="#000" >3</text>
<line x1="495.10" y1="275.60" x2="495.10" y2="279.10" stroke="#000" stroke-width="1.2" />
<text x="495.10" y="287.40" font-size="7.3" font-weight="bold" text-anchor="middle" fill="#000" >4</text>
<line x1="518.50" y1="275.60" x2="518.50" y2="279.10" stroke="#000" stroke-width="1.2" />
<text x="518.50" y="287.40" font-size="7.3" font-weight="bold" text-anchor="middle" fill="#000" >5</text>
<line x1="541.90" y1="275.60" x2="541.90" y2="279.10" stroke="#000" stroke-width="1.2" />
<text x="541.90" y="287.40" font-size="7.3" font-weight="bold" text-anchor="middle" fill="#000" >6</text>
<text x="471.90" y="298.80" font-size="7.8" font-weight="bold" text-anchor="middle" fill="#000" textLength="18.0" lengthAdjust="spacingAndGlyphs">Head</text>
<text transform="translate(381.8,250.4) rotate(-90)" font-size="7.9" font-weight="bold" textLength="28.5" lengthAdjust="spacingAndGlyphs">Mean SD</text>
<text transform="translate(381.8,219.9) rotate(-90)" font-size="7.6" fill="#111" stroke="#111" stroke-width="0.12" textLength="14.0" lengthAdjust="spacingAndGlyphs">(α°)</text>
<line x1="424.90" y1="230.39" x2="424.90" y2="260.02" stroke="#4a4a4a" stroke-width="0.65" />
<line x1="422.70" y1="230.39" x2="427.10" y2="230.39" stroke="#4a4a4a" stroke-width="0.65" />
<line x1="422.70" y1="260.02" x2="427.10" y2="260.02" stroke="#4a4a4a" stroke-width="0.65" />
<line x1="448.30" y1="228.33" x2="448.30" y2="254.54" stroke="#4a4a4a" stroke-width="0.65" />
<line x1="446.10" y1="228.33" x2="450.50" y2="228.33" stroke="#4a4a4a" stroke-width="0.65" />
<line x1="446.10" y1="254.54" x2="450.50" y2="254.54" stroke="#4a4a4a" stroke-width="0.65" />
<line x1="471.70" y1="227.40" x2="471.70" y2="268.11" stroke="#4a4a4a" stroke-width="0.65" />
<line x1="469.50" y1="227.40" x2="473.90" y2="227.40" stroke="#4a4a4a" stroke-width="0.65" />
<line x1="469.50" y1="268.11" x2="473.90" y2="268.11" stroke="#4a4a4a" stroke-width="0.65" />
<line x1="495.10" y1="225.52" x2="495.10" y2="267.41" stroke="#4a4a4a" stroke-width="0.65" />
<line x1="492.90" y1="225.52" x2="497.30" y2="225.52" stroke="#4a4a4a" stroke-width="0.65" />
<line x1="492.90" y1="267.41" x2="497.30" y2="267.41" stroke="#4a4a4a" stroke-width="0.65" />
<line x1="518.50" y1="229.27" x2="518.50" y2="244.01" stroke="#4a4a4a" stroke-width="0.65" />
<line x1="516.30" y1="229.27" x2="520.70" y2="229.27" stroke="#4a4a4a" stroke-width="0.65" />
<line x1="516.30" y1="244.01" x2="520.70" y2="244.01" stroke="#4a4a4a" stroke-width="0.65" />
<line x1="541.90" y1="223.65" x2="541.90" y2="253.14" stroke="#4a4a4a" stroke-width="0.65" />
<line x1="539.70" y1="223.65" x2="544.10" y2="223.65" stroke="#4a4a4a" stroke-width="0.65" />
<line x1="539.70" y1="253.14" x2="544.10" y2="253.14" stroke="#4a4a4a" stroke-width="0.65" />
<line x1="424.90" y1="267.88" x2="424.90" y2="275.37" stroke="#4a4a4a" stroke-width="0.65" />
<line x1="422.90" y1="267.88" x2="426.90" y2="267.88" stroke="#4a4a4a" stroke-width="0.65" />
<line x1="422.90" y1="275.37" x2="426.90" y2="275.37" stroke="#4a4a4a" stroke-width="0.65" />
<line x1="448.30" y1="237.22" x2="448.30" y2="255.94" stroke="#4a4a4a" stroke-width="0.65" />
<line x1="446.30" y1="237.22" x2="450.30" y2="237.22" stroke="#4a4a4a" stroke-width="0.65" />
<line x1="446.30" y1="255.94" x2="450.30" y2="255.94" stroke="#4a4a4a" stroke-width="0.65" />
<line x1="471.70" y1="228.33" x2="471.70" y2="247.05" stroke="#4a4a4a" stroke-width="0.65" />
<line x1="469.70" y1="228.33" x2="473.70" y2="228.33" stroke="#4a4a4a" stroke-width="0.65" />
<line x1="469.70" y1="247.05" x2="473.70" y2="247.05" stroke="#4a4a4a" stroke-width="0.65" />
<line x1="495.10" y1="231.61" x2="495.10" y2="236.29" stroke="#4a4a4a" stroke-width="0.65" />
<line x1="493.10" y1="231.61" x2="497.10" y2="231.61" stroke="#4a4a4a" stroke-width="0.65" />
<line x1="493.10" y1="236.29" x2="497.10" y2="236.29" stroke="#4a4a4a" stroke-width="0.65" />
<line x1="518.50" y1="224.12" x2="518.50" y2="231.61" stroke="#4a4a4a" stroke-width="0.65" />
<line x1="516.50" y1="224.12" x2="520.50" y2="224.12" stroke="#4a4a4a" stroke-width="0.65" />
<line x1="516.50" y1="231.61" x2="520.50" y2="231.61" stroke="#4a4a4a" stroke-width="0.65" />
<line x1="541.90" y1="200.44" x2="541.90" y2="216.35" stroke="#4a4a4a" stroke-width="0.65" />
<line x1="539.90" y1="200.44" x2="543.90" y2="200.44" stroke="#4a4a4a" stroke-width="0.65" />
<line x1="539.90" y1="216.35" x2="543.90" y2="216.35" stroke="#4a4a4a" stroke-width="0.65" />
<polyline points="424.90,244.99 448.30,241.62 471.70,247.52 495.10,249.39 518.50,236.62 541.90,238.16" fill="none" stroke="#3a3a3a" stroke-width="0.8"/>
<polyline points="424.90,271.62 448.30,246.58 471.70,237.69 495.10,233.95 518.50,227.86 541.90,208.40" fill="none" stroke="#8c84f2" stroke-width="0.95"/>
<rect x="422.80" y="242.99" width="4.2" height="4.0" fill="none" stroke="#666" stroke-width="0.6"/>
<rect x="446.20" y="239.62" width="4.2" height="4.0" fill="none" stroke="#666" stroke-width="0.6"/>
<rect x="469.60" y="245.52" width="4.2" height="4.0" fill="none" stroke="#666" stroke-width="0.6"/>
<rect x="493.00" y="247.39" width="4.2" height="4.0" fill="none" stroke="#666" stroke-width="0.6"/>
<rect x="516.40" y="234.62" width="4.2" height="4.0" fill="none" stroke="#666" stroke-width="0.6"/>
<rect x="539.80" y="236.16" width="4.2" height="4.0" fill="none" stroke="#666" stroke-width="0.6"/>
<circle cx="424.90" cy="271.62" r="1.75" fill="none" stroke="#666" stroke-width="0.65"/>
<circle cx="448.30" cy="246.58" r="1.75" fill="none" stroke="#666" stroke-width="0.65"/>
<circle cx="471.70" cy="237.69" r="1.75" fill="none" stroke="#666" stroke-width="0.65"/>
<circle cx="495.10" cy="233.95" r="1.75" fill="none" stroke="#666" stroke-width="0.65"/>
<circle cx="518.50" cy="227.86" r="1.75" fill="none" stroke="#666" stroke-width="0.65"/>
<circle cx="541.90" cy="208.40" r="1.75" fill="none" stroke="#666" stroke-width="0.65"/>
<line x1="410.50" y1="171.60" x2="420.50" y2="171.60" stroke="#8c84f2" stroke-width="0.7" />
<circle cx="415.60" cy="171.60" r="1.7" fill="none" stroke="#777" stroke-width="0.6"/>
<text x="425.50" y="174.20" font-size="7.5" font-weight="normal" text-anchor="start" fill="#000" stroke="#000" stroke-width="0.12">calculated SD (23.9%)</text>
<line x1="410.50" y1="180.40" x2="420.50" y2="180.40" stroke="#3a3a3a" stroke-width="0.7" />
<rect x="413.5" y="178.60" width="4.2" height="3.6" fill="none" stroke="#777" stroke-width="0.55"/>
<text x="425.50" y="182.60" font-size="7.5" font-weight="normal" text-anchor="start" fill="#000" stroke="#000" stroke-width="0.12">measured SD</text>
<circle cx="27.6" cy="22.8" r="4.7" fill="#8c8c8c"/>
<path d="M22.5,28.1 L32.8,28.1 Q34.5,28.1 35,29.6 L38.2,41.5 L36.6,42.3 L33.2,33.5 L33.2,57 Q33.2,57.9 32.2,57.9 L29.1,57.9 Q28.1,57.9 28.1,57 L28.1,44.2 L27.2,44.2 L27.2,57 Q27.2,57.9 26.2,57.9 L23.2,57.9 Q22.2,57.9 22.2,57 L22.2,33.5 L19.0,42.3 L17.4,41.5 L20.5,29.6 Q21,28.1 22.5,28.1 Z" fill="#8c8c8c"/>
<path d="M27.5,13.8 A7.6,7.6 0 1 1 35.8,22.5" fill="none" stroke="#555" stroke-width="0.6"/>
<path d="M26.3,13.0 L28.7,13.3 L27.4,15.8 Z" fill="#444"/>
<defs><linearGradient id="gs" x1="0" y1="1" x2="1" y2="0"><stop offset="0" stop-color="#9a9a9a"/><stop offset="0.5" stop-color="#a8a8a8"/><stop offset="1" stop-color="#c4c4c4"/></linearGradient><radialGradient id="gt" cx="0.5" cy="0.45" r="0.6"><stop offset="0" stop-color="#b0b0b0"/><stop offset="0.7" stop-color="#9c9c9c"/><stop offset="1" stop-color="#848484"/></radialGradient></defs>
<path d="M6.1,125.1 L8.2,118.9 L11.6,114.8 L19.9,109.3 L29.5,105.2 L37.8,101.7 L46,99.6 L48.8,103.8 L50.9,107.9 L46,110 L44.7,117.5 L42,123 L37.8,126 L18.5,126.9 L7.5,126.9 Z" fill="url(#gs)"/>
<path d="M10.3,114 L24,107.2" stroke="#999" stroke-width="0.4" fill="none"/>
<path d="M12,122 Q25,113 44,104" stroke="#c8c8c8" stroke-width="1.2" fill="none" opacity="0.7"/>
<path d="M30,120 Q36,117 41,113" stroke="#d8d8d8" stroke-width="1.0" fill="none" opacity="0.8"/>
<path d="M9,125 Q22,121 38,124" stroke="#888" stroke-width="1.0" fill="none" opacity="0.6"/>
<line x1="5.4" y1="126.5" x2="42.6" y2="96.2" stroke="#e06060" stroke-width="0.5"/>
<line x1="42.6" y1="96.2" x2="48" y2="99" stroke="#e06060" stroke-width="0.4"/>
<line x1="5.4" y1="126.5" x2="51.6" y2="110.4" stroke="#e06060" stroke-width="0.5"/>
<line x1="5.4" y1="126.5" x2="49.5" y2="104.5" stroke="#333" stroke-width="0.6"/>
<path d="M17,225 L18.3,225 L19.2,227.3 Q23,228 27.2,227 L27.7,228 L28.2,227 Q32.5,228 36.3,227.3 L37.2,225 L38.5,225 L39.5,229 Q43.5,234 43.2,243 Q43,252 40,258 Q37,263 36,268 Q35.5,273 34.5,275 L30,275.5 L27.7,274.5 L25.5,275.5 L21.5,275 Q20.5,273 20,268 Q19,263 16,258 Q12.5,252 12.3,243 Q12,234 16,229 Z" fill="url(#gt)"/>
<path d="M20.8,232 Q19,246 21.5,262 M34.6,232 Q36.5,246 34,262" stroke="#8a8a8a" stroke-width="1.2" fill="none"/>
<path d="M24.5,231 Q23.5,246 25,262 M31,231 Q32,246 30.5,262" stroke="#b8b8b8" stroke-width="1.0" fill="none"/>
<line x1="8" y1="249.2" x2="48" y2="249.2" stroke="#222" stroke-width="0.6"/>
<path d="M8,246.2 Q28,249.2 48,246.2" fill="none" stroke="#e06060" stroke-width="0.45"/>
<path d="M8,252 Q28,249.2 48,252" fill="none" stroke="#e06060" stroke-width="0.45"/>
<line x1="27.8" y1="238.7" x2="27.8" y2="252.4" stroke="#555" stroke-width="0.8" stroke-dasharray="5,1.2"/>
</svg>
</body></html>
